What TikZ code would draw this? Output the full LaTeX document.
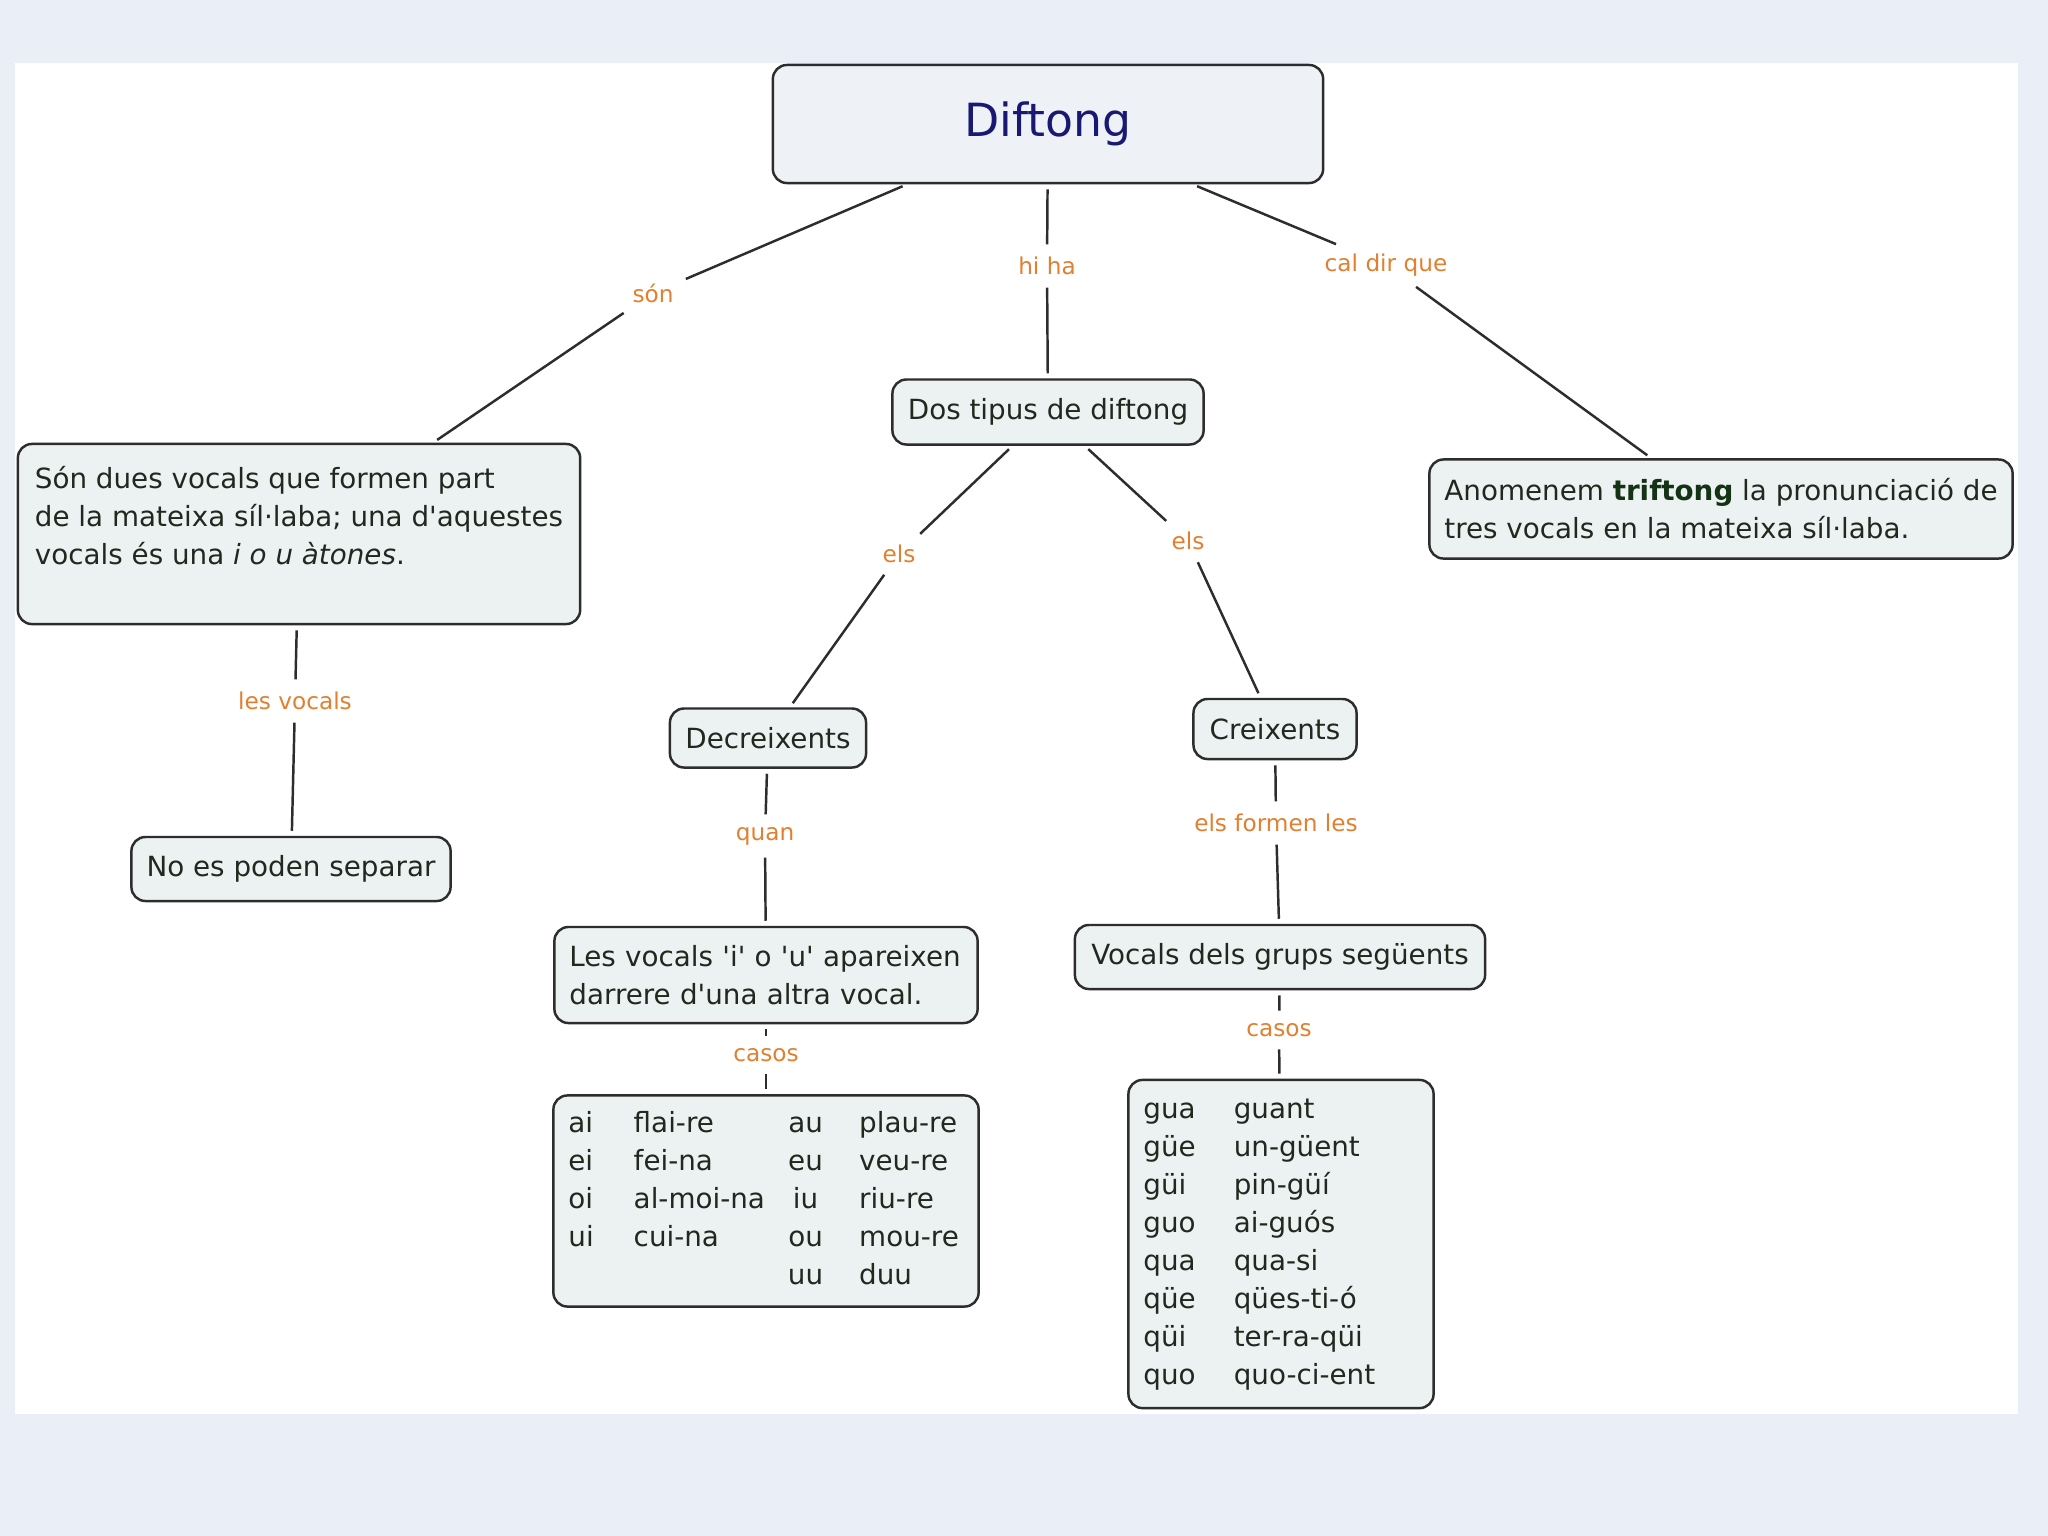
\documentclass[tikz,border=0pt]{standalone}
\usepackage{fontspec}
\setmainfont{DejaVu Sans}
\usepackage{xcolor}
\usetikzlibrary{positioning}
\definecolor{FrameBlue}{RGB}{234,238,246}
\definecolor{BoxFill}{RGB}{236,242,242}
\definecolor{TitleFill}{RGB}{238,241,245}
\definecolor{EdgeGray}{RGB}{45,45,45}
\definecolor{TextGreen}{RGB}{30,42,30}
\definecolor{BoldGreen}{RGB}{20,50,20}
\definecolor{LinkOrange}{RGB}{226,128,48}
\definecolor{TitleNavy}{RGB}{25,25,115}
\tikzset{
  cbox/.style={draw=EdgeGray, line width=0.7pt, fill=BoxFill, rounded corners=4pt,
    text=TextGreen, font=\fontsize{7.9}{10.8}\selectfont, inner sep=0pt},
  mbox/.style={cbox, align=left, inner xsep=0.15cm},
  titlebox/.style={cbox, fill=TitleFill, text=TitleNavy, font=\fontsize{13}{15}\selectfont},
  lbl/.style={text=LinkOrange, font=\fontsize{6.6}{8}\selectfont, inner sep=0.07cm},
  link/.style={draw=EdgeGray, line width=0.7pt, shorten <=0.05cm, shorten >=0.05cm},
}
\newcommand{\sq}{\textquotesingle}

\begin{document}
\begin{tikzpicture}[x=0.01cm, y=-0.01cm]
  % frame
  \fill[FrameBlue] (0,0) rectangle (2048,1536);
  \fill[white] (15,63) rectangle (2018,1414);
  \useasboundingbox (0,0) rectangle (2048,1536);

  % boxes
  \node[titlebox, minimum width=5.5cm, minimum height=1.18cm] (dift) at (1048,124) {Diftong};
  \node[mbox, minimum width=5.62cm, minimum height=1.8cm] (def) at (299,534)
    {Són dues vocals que formen part\\de la mateixa síl·laba; una d\sq aquestes\\vocals és una \textit{i o u àtones}.\\\mbox{}};
  \node[cbox, minimum width=3.11cm, minimum height=0.65cm] (dos) at (1048,412) {Dos tipus de diftong};
  \node[mbox, minimum width=5.80cm, minimum height=0.99cm] (tri) at (1721,509)
    {Anomenem \textbf{\color{BoldGreen}triftong} la pronunciació de\\tres vocals en la mateixa síl·laba.};
  \node[cbox, minimum width=3.19cm, minimum height=0.64cm] (sep) at (291,869) {No es poden separar};
  \node[cbox, minimum width=1.96cm, minimum height=0.59cm] (dec) at (768,738) {Decreixents};
  \node[cbox, minimum width=1.63cm, minimum height=0.60cm] (cre) at (1275,729) {Creixents};
  \node[mbox, text width=3.93cm, minimum height=0.96cm] (apar) at (766,975)
    {Les vocals \sq i\sq\ o \sq u\sq\ apareixen\\darrere d\sq una altra vocal.};
  \node[cbox, minimum width=4.10cm, minimum height=0.64cm] (grups) at (1280,957) {Vocals dels grups següents};
  \node[mbox, text width=3.95cm, minimum height=2.11cm] (tab1) at (766,1201)
    {\begin{tabular}{@{}l@{\hspace{0.40cm}}l@{\hspace{0.23cm}}c@{\hspace{0.36cm}}l@{}}
      ai & flai-re & au & plau-re\\
      ei & fei-na & eu & veu-re\\
      oi & al-moi-na & iu & riu-re\\
      ui & cui-na & ou & mou-re\\
         &        & uu & duu
    \end{tabular}};
  \node[mbox, text width=2.75cm, minimum height=3.28cm] (tab2) at (1281,1244)
    {\begin{tabular}{@{}l@{\hspace{0.38cm}}l@{}}
      gua & guant\\
      güe & un-güent\\
      güi & pin-güí\\
      guo & ai-guós\\
      qua & qua-si\\
      qüe & qües-ti-ó\\
      qüi & ter-ra-qüi\\
      quo & quo-ci-ent
    \end{tabular}};

  % link labels
  \node[lbl] (son) at (653,293) {són};
  \node[lbl] (hiha) at (1047,266) {hi ha};
  \node[lbl] (caldir) at (1386,265) {cal dir que};
  \node[lbl] (lesvoc) at (295,701) {les vocals};
  \node[lbl] (els1) at (899,554) {els};
  \node[lbl] (els2) at (1188,541) {els};
  \node[lbl] (quan) at (765,836) {quan};
  \node[lbl] (casos1) at (766,1055) {casos};
  \node[lbl] (formen) at (1276,823) {els formen les};
  \node[lbl] (casos2) at (1279,1030) {casos};

  % links
  \draw[link] (dift) -- (son);
  \draw[link] (son) -- (def);
  \draw[link] (dift) -- (hiha);
  \draw[link] (hiha) -- (dos);
  \draw[link] (dift) -- (caldir);
  \draw[link] (caldir) -- (tri);
  \draw[link] (def) -- (lesvoc);
  \draw[link] (lesvoc) -- (sep);
  \draw[link] (dos) -- (els1);
  \draw[link] (els1) -- (dec);
  \draw[link] (dos) -- (els2);
  \draw[link] (els2) -- (cre);
  \draw[link] (dec) -- (quan);
  \draw[link] (quan) -- (apar);
  \draw[link] (apar) -- (casos1);
  \draw[link] (casos1) -- (tab1);
  \draw[link] (cre) -- (formen);
  \draw[link] (formen) -- (grups);
  \draw[link] (grups) -- (casos2);
  \draw[link] (casos2) -- (tab2);
\end{tikzpicture}
\end{document}
